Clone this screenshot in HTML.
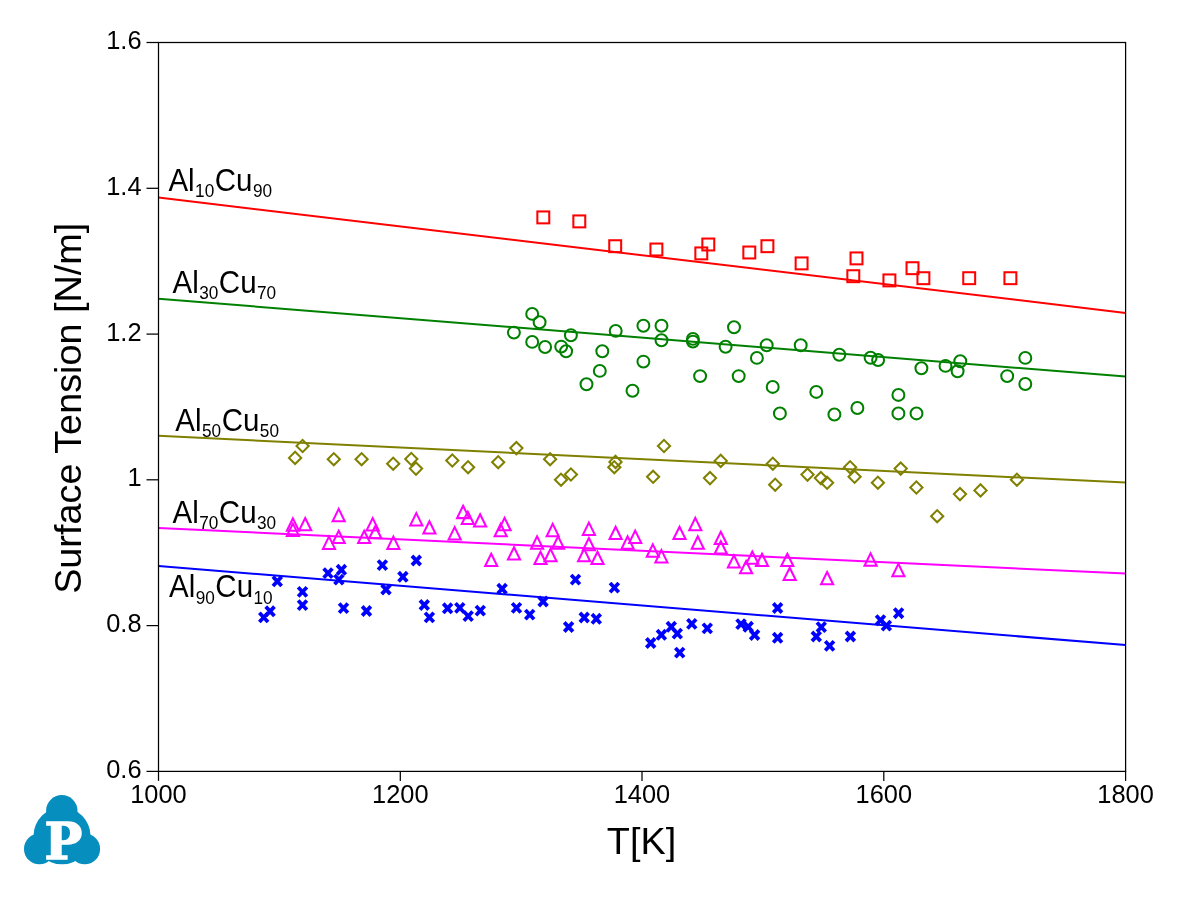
<!DOCTYPE html>
<html lang="en">
<head>
<meta charset="utf-8">
<title>Surface Tension of Al-Cu</title>
<style>
html,body{margin:0;padding:0;background:#fff;}
body{width:1193px;height:907px;overflow:hidden;}
svg{display:block;}
text{font-family:"Liberation Sans",Arial,sans-serif;fill:#000;}
.tick{font-size:25.4px;}
.lab{font-size:29.5px;}
.sub{font-size:17.2px;}
.title{font-size:37.8px;}
.ax{stroke:#000;stroke-width:1.25;fill:none;}
.ln{stroke-width:2;fill:none;}
.m{fill:none;stroke-width:2.05;}
.bx{stroke:#0000ff;stroke-width:3.75;fill:none;}
</style>
</head>
<body>
<svg width="1193" height="907" viewBox="0 0 1193 907">
<rect width="1193" height="907" fill="#fff"/>
<defs>
<rect id="sq" x="-5.95" y="-5.95" width="11.9" height="11.9"/>
<circle id="ci" r="5.95"/>
<path id="di" d="M0 -6.1 L6.1 0 L0 6.1 L-6.1 0 Z"/>
<path id="tr" d="M0 -5.8 L6.05 6.5 L-6.05 6.5 Z"/>
<path id="xx" d="M-4.35 -4.65 L4.35 4.65 M-4.35 4.65 L4.35 -4.65"/>
</defs>

<g class="ln">
<line x1="158.5" y1="197.6" x2="1125.6" y2="312.9" stroke="#ff0000"/>
<line x1="158.5" y1="298.7" x2="1125.6" y2="376.6" stroke="#008000"/>
<line x1="158.5" y1="435.8" x2="1125.6" y2="482.6" stroke="#808000"/>
<line x1="158.5" y1="527.9" x2="1125.6" y2="573.6" stroke="#ff00ff"/>
<line x1="158.5" y1="565.9" x2="1125.6" y2="645.1" stroke="#0000ff"/>
</g>
<g class="m" stroke="#ff0000">
<use href="#sq" x="543.3" y="217.4"/>
<use href="#sq" x="579.3" y="221.4"/>
<use href="#sq" x="615.2" y="246.2"/>
<use href="#sq" x="656.4" y="249.5"/>
<use href="#sq" x="701.3" y="253.4"/>
<use href="#sq" x="708.3" y="244.5"/>
<use href="#sq" x="749.3" y="252.5"/>
<use href="#sq" x="767.4" y="246.2"/>
<use href="#sq" x="801.6" y="263.4"/>
<use href="#sq" x="856.5" y="258.4"/>
<use href="#sq" x="853.3" y="276.2"/>
<use href="#sq" x="889.4" y="280.4"/>
<use href="#sq" x="912.5" y="268.2"/>
<use href="#sq" x="923.4" y="278.2"/>
<use href="#sq" x="969.2" y="278.2"/>
<use href="#sq" x="1010.4" y="278.2"/>
</g>
<g class="m" stroke="#008000">
<use href="#ci" x="513.9" y="332.6"/>
<use href="#ci" x="532.2" y="313.9"/>
<use href="#ci" x="539.6" y="322.2"/>
<use href="#ci" x="532.2" y="341.9"/>
<use href="#ci" x="545.1" y="347"/>
<use href="#ci" x="561.2" y="346.6"/>
<use href="#ci" x="566.1" y="351.3"/>
<use href="#ci" x="570.9" y="335.2"/>
<use href="#ci" x="586.5" y="384.2"/>
<use href="#ci" x="599.8" y="370.9"/>
<use href="#ci" x="602.3" y="351.3"/>
<use href="#ci" x="615.7" y="330.9"/>
<use href="#ci" x="632.5" y="390.7"/>
<use href="#ci" x="643.4" y="325.8"/>
<use href="#ci" x="643.4" y="361.6"/>
<use href="#ci" x="661.5" y="325.8"/>
<use href="#ci" x="661.5" y="340.3"/>
<use href="#ci" x="692.9" y="338.9"/>
<use href="#ci" x="692.9" y="341.6"/>
<use href="#ci" x="700.1" y="376.1"/>
<use href="#ci" x="725.6" y="346.8"/>
<use href="#ci" x="734" y="327.2"/>
<use href="#ci" x="738.7" y="376.1"/>
<use href="#ci" x="756.9" y="357.9"/>
<use href="#ci" x="766.7" y="345.3"/>
<use href="#ci" x="772.7" y="386.9"/>
<use href="#ci" x="779.9" y="413.4"/>
<use href="#ci" x="800.7" y="345.3"/>
<use href="#ci" x="816.3" y="391.9"/>
<use href="#ci" x="839.3" y="354.7"/>
<use href="#ci" x="834.4" y="414.5"/>
<use href="#ci" x="857.4" y="408"/>
<use href="#ci" x="870.6" y="357.7"/>
<use href="#ci" x="878.1" y="360"/>
<use href="#ci" x="898.4" y="394.9"/>
<use href="#ci" x="898.4" y="413.4"/>
<use href="#ci" x="916.5" y="413.4"/>
<use href="#ci" x="921.4" y="368.3"/>
<use href="#ci" x="945.5" y="365.9"/>
<use href="#ci" x="957.6" y="371.3"/>
<use href="#ci" x="960.3" y="361.2"/>
<use href="#ci" x="1007.2" y="376.1"/>
<use href="#ci" x="1025.3" y="357.9"/>
<use href="#ci" x="1025.3" y="384"/>
</g>
<g class="m" stroke="#808000">
<use href="#di" x="295.1" y="457.9"/>
<use href="#di" x="302.6" y="446"/>
<use href="#di" x="333.8" y="459.2"/>
<use href="#di" x="361.6" y="459.2"/>
<use href="#di" x="393.2" y="463.7"/>
<use href="#di" x="411.3" y="459"/>
<use href="#di" x="416" y="468.6"/>
<use href="#di" x="452.3" y="460.5"/>
<use href="#di" x="468.1" y="467.2"/>
<use href="#di" x="498.2" y="462.2"/>
<use href="#di" x="516.4" y="448.1"/>
<use href="#di" x="550.1" y="459.2"/>
<use href="#di" x="561" y="479.7"/>
<use href="#di" x="570.9" y="474.5"/>
<use href="#di" x="615.5" y="461.9"/>
<use href="#di" x="614.3" y="467.2"/>
<use href="#di" x="653.1" y="476.8"/>
<use href="#di" x="664" y="446"/>
<use href="#di" x="710" y="478.1"/>
<use href="#di" x="720.7" y="460.9"/>
<use href="#di" x="772.8" y="463.7"/>
<use href="#di" x="775.2" y="484.7"/>
<use href="#di" x="807.5" y="474.6"/>
<use href="#di" x="820.9" y="478.1"/>
<use href="#di" x="827.1" y="482.8"/>
<use href="#di" x="850.1" y="467.2"/>
<use href="#di" x="854.6" y="476.8"/>
<use href="#di" x="877.9" y="482.7"/>
<use href="#di" x="900.7" y="468.6"/>
<use href="#di" x="916.4" y="487.5"/>
<use href="#di" x="937.2" y="516.2"/>
<use href="#di" x="960" y="494.1"/>
<use href="#di" x="980.5" y="490.4"/>
<use href="#di" x="1016.9" y="479.7"/>
</g>
<g class="m" stroke="#ff00ff">
<use href="#tr" x="292.9" y="524.2"/>
<use href="#tr" x="292.9" y="529.4"/>
<use href="#tr" x="305.2" y="523.8"/>
<use href="#tr" x="338.7" y="514.7"/>
<use href="#tr" x="338.7" y="536.5"/>
<use href="#tr" x="329" y="542.4"/>
<use href="#tr" x="372.7" y="523.9"/>
<use href="#tr" x="375.3" y="531.8"/>
<use href="#tr" x="364.2" y="536.5"/>
<use href="#tr" x="393.4" y="542.4"/>
<use href="#tr" x="416.3" y="518.9"/>
<use href="#tr" x="429.4" y="527"/>
<use href="#tr" x="454.7" y="532.9"/>
<use href="#tr" x="463.1" y="511.6"/>
<use href="#tr" x="467.8" y="517.5"/>
<use href="#tr" x="480.1" y="520"/>
<use href="#tr" x="504.6" y="523.7"/>
<use href="#tr" x="500.7" y="529.7"/>
<use href="#tr" x="491.2" y="559.6"/>
<use href="#tr" x="514" y="553"/>
<use href="#tr" x="537.1" y="542.2"/>
<use href="#tr" x="552.7" y="529.7"/>
<use href="#tr" x="558.1" y="542.2"/>
<use href="#tr" x="540.5" y="557.6"/>
<use href="#tr" x="550.5" y="554.7"/>
<use href="#tr" x="588.9" y="528.4"/>
<use href="#tr" x="588.9" y="543.8"/>
<use href="#tr" x="584.1" y="554.7"/>
<use href="#tr" x="597.5" y="557.6"/>
<use href="#tr" x="615.6" y="532.6"/>
<use href="#tr" x="627.6" y="542.2"/>
<use href="#tr" x="635.2" y="536.4"/>
<use href="#tr" x="652.8" y="550.2"/>
<use href="#tr" x="661.4" y="555.9"/>
<use href="#tr" x="679.5" y="532.6"/>
<use href="#tr" x="695.3" y="523.7"/>
<use href="#tr" x="697.8" y="542.2"/>
<use href="#tr" x="720.8" y="537.6"/>
<use href="#tr" x="720.8" y="547"/>
<use href="#tr" x="733.9" y="561"/>
<use href="#tr" x="746.1" y="566.8"/>
<use href="#tr" x="752.3" y="557.3"/>
<use href="#tr" x="762" y="559.6"/>
<use href="#tr" x="787.3" y="559.6"/>
<use href="#tr" x="789.7" y="573.5"/>
<use href="#tr" x="827.1" y="577.8"/>
<use href="#tr" x="870.6" y="559.2"/>
<use href="#tr" x="898.4" y="569.7"/>
</g>
<g class="bx" stroke="#0000ff">
<use href="#xx" x="263.7" y="617.4"/>
<use href="#xx" x="270.1" y="611.3"/>
<use href="#xx" x="277.3" y="581.3"/>
<use href="#xx" x="302.5" y="591.9"/>
<use href="#xx" x="302.5" y="605.1"/>
<use href="#xx" x="328" y="573.1"/>
<use href="#xx" x="341.4" y="569.8"/>
<use href="#xx" x="338.9" y="579.6"/>
<use href="#xx" x="343.5" y="608.1"/>
<use href="#xx" x="366.5" y="611"/>
<use href="#xx" x="382.4" y="565.1"/>
<use href="#xx" x="386" y="589.5"/>
<use href="#xx" x="402.9" y="576.8"/>
<use href="#xx" x="416.3" y="560.5"/>
<use href="#xx" x="424.3" y="605"/>
<use href="#xx" x="429.4" y="617.4"/>
<use href="#xx" x="447.6" y="608.3"/>
<use href="#xx" x="459.8" y="607.9"/>
<use href="#xx" x="468.2" y="616.1"/>
<use href="#xx" x="480.3" y="610.6"/>
<use href="#xx" x="502.1" y="588.8"/>
<use href="#xx" x="516.5" y="607.9"/>
<use href="#xx" x="529.7" y="614.6"/>
<use href="#xx" x="543.1" y="601.5"/>
<use href="#xx" x="568.6" y="627"/>
<use href="#xx" x="575.5" y="579.6"/>
<use href="#xx" x="584.2" y="617.5"/>
<use href="#xx" x="596.3" y="618.8"/>
<use href="#xx" x="614.4" y="587.6"/>
<use href="#xx" x="650.7" y="643"/>
<use href="#xx" x="661.4" y="634.8"/>
<use href="#xx" x="671.3" y="626.8"/>
<use href="#xx" x="677.3" y="633.6"/>
<use href="#xx" x="679.7" y="652.6"/>
<use href="#xx" x="691.8" y="623.9"/>
<use href="#xx" x="707.3" y="628.4"/>
<use href="#xx" x="741" y="624.1"/>
<use href="#xx" x="748.2" y="626.8"/>
<use href="#xx" x="754.6" y="635"/>
<use href="#xx" x="777.6" y="608"/>
<use href="#xx" x="777.6" y="637.8"/>
<use href="#xx" x="816.3" y="636.5"/>
<use href="#xx" x="821.3" y="627.1"/>
<use href="#xx" x="829.6" y="645.9"/>
<use href="#xx" x="850.4" y="636.5"/>
<use href="#xx" x="880.5" y="620.2"/>
<use href="#xx" x="886.4" y="625.6"/>
<use href="#xx" x="898.6" y="613.2"/>
</g>
<rect class="ax" x="158.5" y="42.5" width="967.1" height="728.9"/>
<g class="ax">
<line x1="146.5" y1="42.5" x2="158.5" y2="42.5"/>
<line x1="146.5" y1="188.3" x2="158.5" y2="188.3"/>
<line x1="146.5" y1="334.1" x2="158.5" y2="334.1"/>
<line x1="146.5" y1="479.8" x2="158.5" y2="479.8"/>
<line x1="146.5" y1="625.6" x2="158.5" y2="625.6"/>
<line x1="146.5" y1="771.4" x2="158.5" y2="771.4"/>
<line x1="158.5" y1="771.4" x2="158.5" y2="780.9"/>
<line x1="400.3" y1="771.4" x2="400.3" y2="780.9"/>
<line x1="642" y1="771.4" x2="642" y2="780.9"/>
<line x1="883.8" y1="771.4" x2="883.8" y2="780.9"/>
<line x1="1125.6" y1="771.4" x2="1125.6" y2="780.9"/>
</g>
<g class="tick" text-anchor="end">
<text x="141.5" y="49.1">1.6</text>
<text x="141.5" y="194.9">1.4</text>
<text x="141.5" y="340.7">1.2</text>
<text x="141.5" y="486.4">1</text>
<text x="141.5" y="632.2">0.8</text>
<text x="141.5" y="778">0.6</text>
</g>
<g class="tick" text-anchor="middle">
<text x="158.5" y="802.6">1000</text>
<text x="400.3" y="802.6">1200</text>
<text x="642" y="802.6">1400</text>
<text x="883.8" y="802.6">1600</text>
<text x="1125.6" y="802.6">1800</text>
</g>
<g class="lab">
<text transform="translate(168.4 190.9) scale(1 1.04)">Al<tspan class="sub" dx="0.5" dy="6">10</tspan><tspan dx="0.5" dy="-6">Cu</tspan><tspan class="sub" dx="0.5" dy="6">90</tspan></text>
<text transform="translate(172.5 293) scale(1 1.04)">Al<tspan class="sub" dx="0.5" dy="6">30</tspan><tspan dx="0.5" dy="-6">Cu</tspan><tspan class="sub" dx="0.5" dy="6">70</tspan></text>
<text transform="translate(175.3 430.7) scale(1 1.04)">Al<tspan class="sub" dx="0.5" dy="6">50</tspan><tspan dx="0.5" dy="-6">Cu</tspan><tspan class="sub" dx="0.5" dy="6">50</tspan></text>
<text transform="translate(172.5 522.7) scale(1 1.04)">Al<tspan class="sub" dx="0.5" dy="6">70</tspan><tspan dx="0.5" dy="-6">Cu</tspan><tspan class="sub" dx="0.5" dy="6">30</tspan></text>
<text transform="translate(169 597.3) scale(1 1.04)">Al<tspan class="sub" dx="0.5" dy="6">90</tspan><tspan dx="0.5" dy="-6">Cu</tspan><tspan class="sub" dx="0.5" dy="6">10</tspan></text>
</g>
<text class="title" text-anchor="middle" x="641.5" y="853.8">T[K]</text>
<text class="title" text-anchor="middle" transform="translate(81 408.3) rotate(-90)">Surface Tension [N/m]</text>
<g fill="#068ebf">
<circle cx="62" cy="835.8" r="28.5"/>
<circle cx="61.8" cy="810.8" r="15.7"/>
<circle cx="39.4" cy="848.9" r="15.4"/>
<circle cx="84.7" cy="848.9" r="15.4"/>
</g>
<text transform="translate(63.4 859.3) scale(1.005 1)" text-anchor="middle" style="font-family:'DejaVu Serif','Liberation Serif',serif;font-weight:bold;font-size:50px;fill:#fff;stroke:#fff;stroke-width:1.4">P</text>
</svg>
</body>
</html>
